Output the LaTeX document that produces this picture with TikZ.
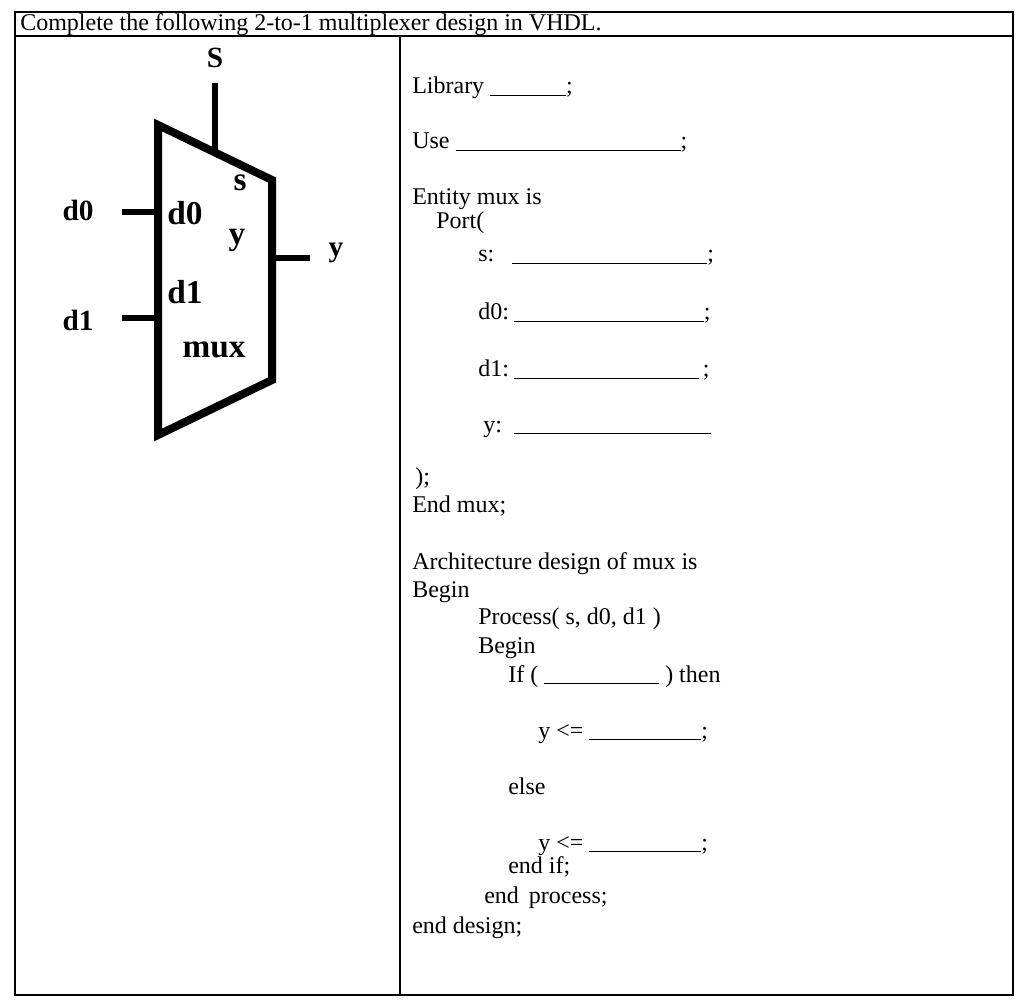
\documentclass[tikz,border=0pt]{standalone}
\usepackage{fontspec}
\setmainfont{Liberation Serif}
\newlength\px \setlength\px{0.75pt}
\newcommand{\blank}[1]{\rule[-1.5pt]{#1\px}{0.6pt}}
\begin{document}
\begin{tikzpicture}[x=0.75pt,y=-0.75pt,
  txt/.style={anchor=base west,inner sep=0pt,font=\fontsize{18}{21}\selectfont},
  mlab/.style={inner sep=0pt,font=\fontsize{22}{24}\selectfont\bfseries},
  ilab/.style={inner sep=0pt,font=\fontsize{25}{28}\selectfont\bfseries},
  wire/.style={line width=4.5pt}]
\useasboundingbox (0,0) rectangle (1024,1005);
\draw[line width=1pt] (15,12) rectangle (1013,995);
\draw[line width=1pt] (15,36) -- (1013,36);
\draw[line width=1pt] (400,36) -- (400,995);
\node[txt] (hd) at (20,31) {Complete the following 2-to-1 multiplexer design in VHDL.};
% mux
\coordinate (tl) at (158,125); \coordinate (tr) at (272,180);
\coordinate (br) at (272,380); \coordinate (bl) at (158,435);
\draw[line width=6pt,line join=miter] (tl) -- (tr) -- (br) -- (bl) -- cycle;
\coordinate (st) at (215,83); \coordinate (sb) at (215,150);
\draw[wire] (st) -- (sb);
\coordinate (a0) at (122,212); \coordinate (b0) at (158,212);
\draw[wire] (a0) -- (b0);
\coordinate (a1) at (122,318); \coordinate (b1) at (158,318);
\draw[wire] (a1) -- (b1);
\coordinate (ya) at (272,258); \coordinate (yb) at (310,258);
\draw[wire] (ya) -- (yb);
\node[mlab] (S) at (215,58) {S};
\node[mlab] (D0) at (78,210) {d0};
\node[mlab] (D1) at (78,320) {d1};
\node[mlab] (Y) at (336,253) {y};
\node[ilab] (is) at (240,183) {s};
\node[ilab] (id0) at (185,213) {d0};
\node[ilab] (iy) at (237,240) {y};
\node[ilab] (id1) at (185,292) {d1};
\node[ilab] (imux) at (214,350) {mux};
% code
\node[txt] (l1) at (412,94) {Library \blank{76};};
\node[txt] (l2) at (412,149) {Use \blank{225};};
\node[txt] (l3) at (412,205) {Entity mux is};
\node[txt] (l4) at (436,229) {Port(};
\node[txt] (l5) at (478,262) {s:\hspace{18\px}\blank{195};};
\node[txt] (l6) at (478,320) {d0:\hspace{5\px}\blank{190};};
\node[txt] (l7) at (478,377) {d1:\hspace{5\px}\blank{185}\hspace{4\px};};
\node[txt] (l8) at (483,432) {y:\hspace{12\px}\blank{197}};
\node[txt] (l9) at (412,484) {\hspace{3\px});};
\node[txt] (l10) at (412,512) {End mux;};
\node[txt] (l11) at (412,569) {Architecture design of mux is};
\node[txt] (l12) at (412,597) {Begin};
\node[txt] (l13) at (478,624) {Process( s, d0, d1 )};
\node[txt] (l14) at (478,653) {Begin};
\node[txt] (l15) at (508,682) {If ( \blank{115}\hspace{6\px}) then};
\node[txt] (l16) at (538,738) {y <= \blank{112};};
\node[txt] (l17) at (508,794) {else};
\node[txt] (l18) at (538,850) {y <= \blank{112};};
\node[txt] (l19) at (508,873) {end if;};
\node[txt] (l20) at (484,903) {end\, process;};
\node[txt] (l21) at (412,933) {end design;};
\end{tikzpicture}
\end{document}
